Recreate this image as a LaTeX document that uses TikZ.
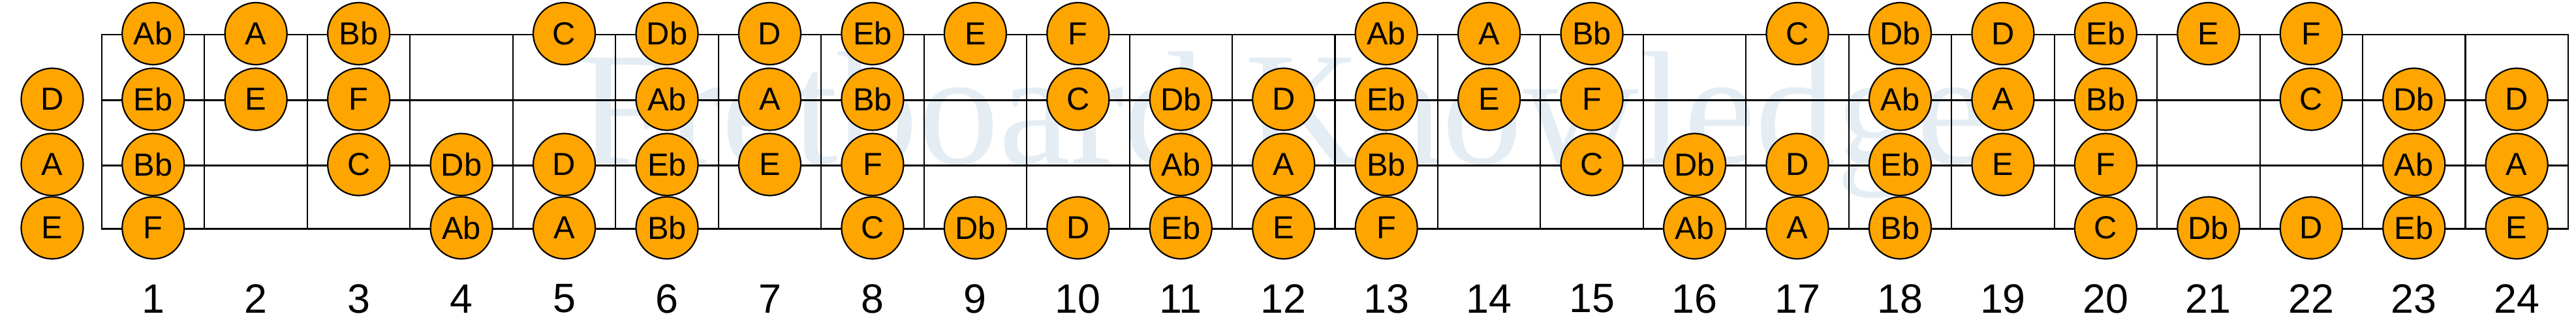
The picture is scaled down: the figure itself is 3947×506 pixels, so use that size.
\documentclass[tikz,border=0pt]{standalone}
\usepackage{fontspec}
\setmainfont{Liberation Sans}
\newfontfamily\wmfont{Liberation Serif}
\definecolor{wmcolor}{RGB}{228,237,244}
\definecolor{noteorange}{RGB}{255,165,0}
\begin{document}
\begin{tikzpicture}[x=0.25pt,y=-0.25pt,
  gridline/.style={line width=0.52pt, draw=black},
  note/.style={circle, draw=black, line width=0.55pt, fill=noteorange,
    minimum size=23.75pt, inner sep=0pt, font=\fontsize{12.2}{14}\selectfont},
  fretnum/.style={inner sep=0pt, font=\fontsize{15.7}{18}\selectfont}]
\useasboundingbox (0,0) rectangle (3947,506);
% watermark
\node[anchor=base west, inner sep=0pt, text=wmcolor,
  font=\wmfont\fontsize{61.75}{70}\selectfont] (wm) at (885,250) {Fretboard Knowledge};
% strings and frets
\coordinate (tl) at (156,53);
\coordinate (br) at (3935,350.5);
\draw[gridline] (tl) rectangle (br);
\foreach \y in {153.5,253.5}
  \draw[gridline] (156,\y) -- (3935,\y);
\foreach \i in {1,...,23}
  \draw[gridline] ({156+\i*157.454},53) -- ({156+\i*157.454},350.5);
% open strings
\node[note] (n0-2) at (80,152) {D};
\node[note] (n0-3) at (80,252) {A};
\node[note] (n0-4) at (80,349) {E};
% fretted notes
\foreach \o in {0,12}{
  \foreach \f/\s/\t in {1/1/Ab,1/2/Eb,1/3/Bb,1/4/F,
                        2/1/A,2/2/E,
                        3/1/Bb,3/2/F,3/3/C,
                        4/3/Db,4/4/Ab,
                        5/1/C,5/3/D,5/4/A,
                        6/1/Db,6/2/Ab,6/3/Eb,6/4/Bb,
                        7/1/D,7/2/A,7/3/E,
                        8/1/Eb,8/2/Bb,8/3/F,8/4/C,
                        9/1/E,9/4/Db,
                        10/1/F,10/2/C,10/4/D,
                        11/2/Db,11/3/Ab,11/4/Eb,
                        12/2/D,12/3/A,12/4/E}{
    \pgfmathtruncatemacro\ff{\f+\o}
    \pgfmathsetmacro\xx{156+(\ff-0.5)*157.454}
    \pgfmathsetmacro\yy{{51.5,152,252,349}[\s-1]}
    \node[note] (n\ff-\s) at (\xx,\yy) {\t};
  }
}
% fret numbers
\foreach \i in {1,...,24}
  \node[fretnum] (fn\i) at ({156+(\i-0.5)*157.454},457.5) {\i};
\end{tikzpicture}
\end{document}
